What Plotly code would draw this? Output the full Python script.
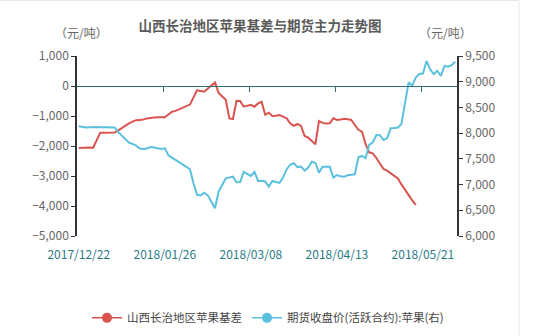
import pandas as pd
import plotly.graph_objects as go

# Trading days (China futures calendar) from 2017/12/22 to 2018/06/01
holidays = ["2018-01-01", "2018-02-15", "2018-02-16", "2018-02-19", "2018-02-20",
            "2018-02-21", "2018-04-05", "2018-04-06", "2018-04-30", "2018-05-01"]
days = [d for d in pd.bdate_range("2017-12-22", "2018-06-01") if d.strftime("%Y-%m-%d") not in holidays]
dates = [d.strftime("%Y/%m/%d") for d in days]

basis = [-2070, -2060, -2050, -2050, -2060, -1800, -1555, -1555, -1555, -1555,
         -1550, -1480, -1400, -1320, -1245, -1190, -1140, -1130, -1120, -1080,
         -1055, -1050, -1045, -1040, -1044, -950, -855, -830, -780, -720,
         -670, -620, -380, -140, -170, -190, -80, 30, 120, -230,
         -350, -460, -1080, -1100, -490, -500, -690, -650, -630, -690,
         -580, -530, -960, -890, -1000, -990, -967, -1020, -1078, -1250,
         -1330, -1267, -1333, -1667, -1722, -1830, -1944, -1167, -1230, -1250,
         -1244, -1078, -1133, -1120, -1089, -1110, -1133, -1300, -1460, -1520,
         -1940, -2211, -2244, -2400, -2600, -2767, -2822, -2900, -2990, -3080,
         -3280, -3467, -3640, -3810, -3967]

futures = [8133, 8120, 8110, 8115, 8120, 8120, 8115, 8120, 8115, 8110,
           8110, 8020, 7950, 7880, 7815, 7790, 7760, 7700, 7690, 7700,
           7730, 7720, 7700, 7690, 7705, 7570, 7523, 7480, 7440, 7390,
           7340, 7300, 7025, 6800, 6790, 6843, 6790, 6660, 6539, 6862,
           7000, 7122, 7140, 7154, 7045, 7050, 7245, 7200, 7167, 7245,
           7070, 7075, 7060, 6960, 7070, 7050, 7032, 7140, 7300, 7390,
           7414, 7340, 7350, 7271, 7330, 7446, 7420, 7232, 7348, 7345,
           7348, 7135, 7186, 7160, 7154, 7180, 7185, 7200, 7530, 7556,
           7511, 7770, 7820, 7964, 7960, 7867, 7900, 8094, 8100, 8110,
           8178, 8550, 8988, 8923, 9080, 9150, 9160, 9403, 9241, 9150,
           9215, 9111, 9306, 9293, 9320, 9390]

label_dates = ["2017/12/22", "2018/01/26", "2018/03/08", "2018/04/13", "2018/05/21"]
left_ticks = [1000, 0, -1000, -2000, -3000, -4000, -5000]
right_ticks = [9500, 9000, 8500, 8000, 7500, 7000, 6500, 6000]
name_basis = "山西长治地区苹果基差"
name_futures = "期货收盘价(活跃合约):苹果(右)"

RED = "#d9534f"
BLUE = "#5bc0de"
TEAL = "#2e6f78"
GRAY = "#666666"
n = len(dates)

fig = go.Figure()
fig.add_trace(go.Scatter(x=dates[:len(basis)], y=basis, name=name_basis, showlegend=False,
                         mode="lines", line=dict(color=RED, width=2)))
fig.add_trace(go.Scatter(x=dates, y=futures, name=name_futures, showlegend=False,
                         mode="lines", line=dict(color=BLUE, width=2), yaxis="y2"))
# legend entries
fig.add_trace(go.Scatter(x=[None], y=[None], mode="lines+markers", name=name_basis,
                         line=dict(color=RED, width=1.5), marker=dict(size=10, color=RED)))
fig.add_trace(go.Scatter(x=[None], y=[None], mode="lines+markers", name=name_futures,
                         line=dict(color=BLUE, width=1.5), marker=dict(size=10, color=BLUE), yaxis="y2"))
# zero-line axis with ticks at category boundaries
fig.add_trace(go.Scatter(x=[0, n - 1], y=[None, None], xaxis="x2", showlegend=False, hoverinfo="skip"))

font = "Microsoft YaHei, Noto Sans CJK SC, sans-serif"
fig.update_layout(
    width=536, height=336,
    margin=dict(l=77, r=79, t=56, b=100, autoexpand=False),
    paper_bgcolor="white", plot_bgcolor="white",
    font=dict(family=font, size=12, color=GRAY),
    title=dict(text="<b>山西长治地区苹果基差与期货主力走势图</b>", x=0.485, xanchor="center",
               y=0.922, yanchor="middle", font=dict(size=13.5, color="#5a5a5a", family=font)),
    xaxis=dict(type="category", categoryorder="array", categoryarray=dates,
               range=[-0.5, n - 0.5], tickvals=label_dates, ticktext=label_dates,
               showline=False, ticks="", showgrid=False, zeroline=False,
               tickfont=dict(color="#2a7a86", size=12), ticklabelstandoff=10),
    xaxis2=dict(overlaying="x", anchor="free", position=5 / 6, range=[-0.5, n - 0.5],
                tickvals=[23.5, 47.5, 71.5, 95.5], ticks="outside", ticklen=5, tickcolor=TEAL,
                showline=True, linecolor=TEAL, linewidth=1.2, showticklabels=False,
                showgrid=False, zeroline=False),
    yaxis=dict(range=[-5000, 1000], tickvals=left_ticks, tickformat=",", showgrid=False,
               zeroline=False, showline=True, linecolor="#333", linewidth=1.5,
               ticks="outside", ticklen=4, tickcolor="#333"),
    yaxis2=dict(range=[6000, 9500], tickvals=right_ticks, tickformat=",", overlaying="y",
                side="right", showgrid=False, zeroline=False, showline=True, linecolor="#333",
                linewidth=1.5, ticks="outside", ticklen=4, tickcolor="#333"),
    legend=dict(orientation="h", xref="container", yref="container", x=0.5, xanchor="center",
                y=0.054, yanchor="middle", font=dict(size=11.5, color="#444"), traceorder="normal",
                itemwidth=30),
    showlegend=True,
    annotations=[
        dict(text="（元/吨）", xref="paper", yref="paper", x=0.012, y=1.133, showarrow=False,
             xanchor="center", yanchor="middle", font=dict(size=12, color=GRAY)),
        dict(text="（元/吨）", xref="paper", yref="paper", x=0.97, y=1.133, showarrow=False,
             xanchor="center", yanchor="middle", font=dict(size=12, color=GRAY)),
    ],
    shapes=[dict(type="rect", xref="paper", yref="paper", x0=-0.205, x1=1.163,
                 y0=-0.6, y1=1.308, line=dict(color="#e6e6e6", width=1), layer="below")],
)

fig.write_html("out.html")
